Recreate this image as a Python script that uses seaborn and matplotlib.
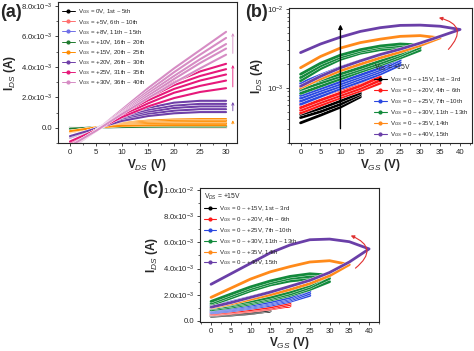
import numpy as np
import pandas as pd
import matplotlib
matplotlib.use('Agg')
import matplotlib.pyplot as plt
import matplotlib.patheffects as pe
import seaborn as sns
from matplotlib.lines import Line2D
from matplotlib.ticker import FuncFormatter, MultipleLocator

sns.set_style("ticks")
plt.rcParams['font.family'] = ['Liberation Sans', 'DejaVu Sans']
plt.rcParams['mathtext.fontset'] = 'custom'
plt.rcParams['mathtext.rm'] = 'Liberation Sans'
plt.rcParams['mathtext.it'] = 'Liberation Sans:italic'
plt.rcParams['mathtext.bf'] = 'Liberation Sans:bold'
plt.rcParams['axes.linewidth'] = 0.8

# ================= (a) output curves, I_DS in 1e-3 A =================
vds_pts = [0, 5, 10, 15, 20, 25, 30]

out_labels = ['V$_{GS}$ = 0V, 1st ~ 5th', 'V$_{GS}$ = +5V, 6th ~ 10th',
              'V$_{GS}$ = +8V, 11th ~ 15th', 'V$_{GS}$ = +10V, 16th ~ 20th',
              'V$_{GS}$ = +15V, 20th ~ 25th', 'V$_{GS}$ = +20V, 26th ~ 30th',
              'V$_{GS}$ = +25V, 31th ~ 35th', 'V$_{GS}$ = +30V, 36th ~ 40th']
out_colors = ['#000000', '#ff6f6f', '#6f6fe8', '#1f7a2e',
              '#ff8c00', '#6f3fa8', '#e6197a', '#d68cc4']

out_0v = [[0.00, 0.00, 0.01, 0.01, 0.01, 0.01, 0.01]] * 5
out_5v = [[-0.02, 0.01, 0.03, 0.03, 0.04, 0.04, 0.04]] * 5
out_8v = [[-0.04, 0.02, 0.05, 0.06, 0.06, 0.07, 0.07]] * 5
out_10v = [[-0.10, 0.03, 0.08, 0.11, 0.12, 0.13, 0.13],
           [-0.09, 0.03, 0.07, 0.10, 0.11, 0.12, 0.12],
           [-0.08, 0.03, 0.07, 0.09, 0.10, 0.10, 0.10],
           [-0.07, 0.02, 0.06, 0.08, 0.09, 0.09, 0.09],
           [-0.06, 0.02, 0.05, 0.07, 0.08, 0.08, 0.08]]
out_15v = [[-0.30, 0.02, 0.32, 0.47, 0.54, 0.57, 0.57],
           [-0.28, 0.02, 0.28, 0.40, 0.45, 0.47, 0.47],
           [-0.26, 0.02, 0.23, 0.32, 0.36, 0.37, 0.37],
           [-0.24, 0.02, 0.18, 0.24, 0.26, 0.27, 0.27],
           [-0.22, 0.02, 0.13, 0.16, 0.17, 0.17, 0.17]]
out_20v = [[-0.65, -0.05, 0.75, 1.30, 1.65, 1.77, 1.77],
           [-0.62, -0.05, 0.68, 1.15, 1.45, 1.57, 1.57],
           [-0.60, -0.05, 0.60, 1.02, 1.30, 1.40, 1.40],
           [-0.57, -0.05, 0.52, 0.90, 1.12, 1.22, 1.22],
           [-0.55, -0.05, 0.45, 0.77, 0.95, 1.03, 1.03]]
out_25v = [[-1.10, -0.15, 1.00, 2.10, 3.00, 3.70, 4.20],
           [-1.05, -0.15, 0.95, 1.95, 2.80, 3.40, 3.85],
           [-1.00, -0.15, 0.90, 1.80, 2.55, 3.10, 3.50],
           [-0.95, -0.15, 0.80, 1.60, 2.30, 2.75, 3.10],
           [-0.90, -0.15, 0.70, 1.40, 1.95, 2.35, 2.60]]
out_30v = [[-1.40, -0.20, 1.20, 2.60, 3.90, 5.10, 6.30],
           [-1.35, -0.20, 1.10, 2.40, 3.65, 4.80, 5.90],
           [-1.30, -0.20, 1.00, 2.25, 3.40, 4.50, 5.50],
           [-1.25, -0.20, 0.95, 2.10, 3.20, 4.25, 5.20],
           [-1.20, -0.20, 0.90, 1.95, 2.95, 3.90, 4.80]]
out_groups = [out_0v, out_5v, out_8v, out_10v, out_15v, out_20v, out_25v, out_30v]

# ================= (b)/(c) transfer loops, V_DS = +15V, I_DS in 1e-3 A =================
# each sweep: forward values at 0,5,..,Vmax then backward values at Vmax,..,5,0
tr_labels = ['V$_{GS}$ = 0 ~ +15V, 1st ~ 3rd', 'V$_{GS}$ = 0 ~ +20V, 4th ~ 6th',
             'V$_{GS}$ = 0 ~ +25V, 7th ~10th', 'V$_{GS}$ = 0 ~ +30V, 11th ~ 13th',
             'V$_{GS}$ = 0 ~ +35V, 14th', 'V$_{GS}$ = 0 ~ +40V, 15th']
tr_colors = ['#000000', '#ff1a1a', '#2a48e0', '#138a3c', '#ff8a1a', '#6a3fa8']
tr_vmax = [15, 20, 25, 30, 35, 40]

tr_15v = [([0.36, 0.45, 0.57, 0.77], [0.77, 0.70, 0.55, 0.42]),
          ([0.42, 0.50, 0.62, 0.82], [0.82, 0.75, 0.60, 0.47]),
          ([0.46, 0.55, 0.68, 0.86], [0.86, 0.80, 0.65, 0.52])]
tr_20v = [([0.48, 0.60, 0.75, 0.92, 1.15], [1.15, 1.10, 0.95, 0.78, 0.60]),
          ([0.52, 0.65, 0.80, 0.98, 1.25], [1.25, 1.20, 1.03, 0.85, 0.66]),
          ([0.56, 0.70, 0.86, 1.06, 1.38], [1.38, 1.30, 1.12, 0.93, 0.73])]
tr_25v = [([0.62, 0.78, 0.98, 1.20, 1.50, 1.95], [1.95, 2.00, 1.80, 1.50, 1.20, 0.92]),
          ([0.68, 0.85, 1.05, 1.30, 1.60, 2.10], [2.10, 2.15, 1.95, 1.62, 1.30, 1.00]),
          ([0.74, 0.92, 1.12, 1.38, 1.70, 2.25], [2.25, 2.30, 2.05, 1.72, 1.38, 1.07]),
          ([0.80, 0.98, 1.20, 1.46, 1.80, 2.40], [2.40, 2.45, 2.20, 1.82, 1.45, 1.14])]
tr_30v = [([0.85, 1.05, 1.30, 1.60, 1.95, 2.40, 3.00], [3.00, 3.20, 3.05, 2.75, 2.30, 1.75, 1.23]),
          ([0.95, 1.15, 1.40, 1.70, 2.05, 2.55, 3.25], [3.25, 3.40, 3.25, 2.90, 2.45, 1.90, 1.35]),
          ([1.05, 1.25, 1.50, 1.80, 2.20, 2.70, 3.50], [3.50, 3.60, 3.40, 3.05, 2.60, 2.05, 1.49])]
tr_35v = [([1.00, 1.30, 1.65, 2.00, 2.40, 2.85, 3.45, 4.30],
           [4.30, 4.60, 4.50, 4.15, 3.75, 3.20, 2.50, 1.80])]
tr_40v = [([1.05, 1.40, 1.80, 2.20, 2.65, 3.10, 3.70, 4.50, 5.50],
           [5.50, 6.05, 6.25, 6.20, 5.80, 5.20, 4.40, 3.60, 2.80])]
tr_groups = [tr_15v, tr_20v, tr_25v, tr_30v, tr_35v, tr_40v]

# ================= build long tables =================
rows = []
for g, curves in enumerate(out_groups):
    for j, ys in enumerate(curves):
        for x, y in zip(vds_pts, ys):
            rows.append({'grp': g, 'unit': g * 10 + j, 'Vds': x, 'Ids': y * 1e-3})
df_out = pd.DataFrame(rows)

rows = []
for g, sweeps in enumerate(tr_groups):
    xs = list(range(0, tr_vmax[g] + 1, 5))
    for j, (fwd, bwd) in enumerate(sweeps):
        for x, y in zip(xs + xs[::-1], fwd + bwd):
            rows.append({'grp': g, 'unit': g * 10 + j, 'Vgs': x, 'Ids': y * 1e-3})
df_tr = pd.DataFrame(rows)


def sci_fmt(v, pos):
    if abs(v) < 1e-12:
        return '0.0'
    e = int(np.floor(np.log10(abs(v)) + 1e-9))
    return '%.1fx10$^{%d}$' % (v / 10 ** e, e)


def log_fmt(v, pos):
    e = int(np.round(np.log10(v)))
    return '10$^{%d}$' % e


def outline(ax, lw):
    # thin white rim around each curve, like the marker-drawn originals
    for ln in ax.get_lines():
        ln.set_path_effects([pe.Stroke(linewidth=lw + 0.5, foreground='white'), pe.Normal()])


TICK_FS = 5.6
LAB_FS = 8.5
LEG_FS = 4.4

fig = plt.figure(figsize=(4.74, 3.51), dpi=100)
ax_a = fig.add_axes([0.1224, 0.5926, 0.3776, 0.4017])
ax_b = fig.add_axes([0.6097, 0.5926, 0.3861, 0.3846])
ax_c = fig.add_axes([0.4219, 0.0826, 0.3776, 0.3818])

# --- (a) ---
sns.lineplot(data=df_out, x='Vds', y='Ids', hue='grp', units='unit', estimator=None,
             sort=False, palette=dict(enumerate(out_colors)), linewidth=1.5,
             legend=False, ax=ax_a)
outline(ax_a, 1.5)
for g in [4, 5, 6, 7]:
    ends = [c[-1] * 1e-3 for c in out_groups[g]]
    ax_a.annotate('', xy=(31.3, max(ends) + 0.1e-3), xytext=(31.3, min(ends) - 0.1e-3),
                  arrowprops=dict(arrowstyle='->', color=out_colors[g], lw=0.6,
                                  mutation_scale=4))
ax_a.set_xlim(-2.3, 32.1)
ax_a.set_ylim(-1.0e-3, 8.26e-3)
ax_a.xaxis.set_major_locator(MultipleLocator(5))
ax_a.xaxis.set_minor_locator(MultipleLocator(2.5))
ax_a.yaxis.set_major_locator(MultipleLocator(2e-3))
ax_a.yaxis.set_minor_locator(MultipleLocator(1e-3))
ax_a.yaxis.set_major_formatter(FuncFormatter(sci_fmt))
ax_a.set_xlabel('V$_{DS}$ (V)', fontsize=LAB_FS, fontweight='bold', labelpad=1)
ax_a.set_ylabel('I$_{DS}$ (A)', fontsize=LAB_FS, fontweight='bold', labelpad=2)
handles = [Line2D([], [], color=c, lw=0.7, marker='o', markersize=2) for c in out_colors]
leg = ax_a.legend(handles, out_labels, loc='upper left', fontsize=LEG_FS, frameon=False,
                  handlelength=2.0, handletextpad=0.6, labelspacing=0.2,
                  borderaxespad=0.3, bbox_to_anchor=(0.0, 0.99))

# --- (b) ---
sns.lineplot(data=df_tr, x='Vgs', y='Ids', hue='grp', units='unit', estimator=None,
             sort=False, palette=dict(enumerate(tr_colors)), linewidth=2.0,
             legend=False, ax=ax_b)
outline(ax_b, 2.0)
ax_b.set_yscale('log')
ax_b.set_xlim(-2.9, 43)
ax_b.set_ylim(2.0e-4, 1.03e-2)
ax_b.xaxis.set_major_locator(MultipleLocator(5))
ax_b.xaxis.set_minor_locator(MultipleLocator(2.5))
ax_b.yaxis.set_major_formatter(FuncFormatter(log_fmt))
ax_b.yaxis.set_minor_formatter(FuncFormatter(lambda v, p: ''))
ax_b.annotate('', xy=(10, 6.9e-3), xytext=(10, 2.8e-4),
              arrowprops=dict(arrowstyle='-|>', color='black', lw=1.0, mutation_scale=6))
ax_b.annotate('', xy=(34.0, 7.9e-3), xytext=(36.6, 2.9e-3),
              arrowprops=dict(arrowstyle='-|>', color='#e03030', lw=0.8, mutation_scale=5,
                              connectionstyle='arc3,rad=0.9'))
ax_b.set_xlabel('V$_{GS}$ (V)', fontsize=LAB_FS, fontweight='bold', labelpad=1)
ax_b.set_ylabel('I$_{DS}$ (A)', fontsize=LAB_FS, fontweight='bold', labelpad=1)
handles = [Line2D([], [], color=c, lw=0.8, marker='o', markersize=2) for c in tr_colors]
leg_b = ax_b.legend(handles, tr_labels, loc='lower right', fontsize=LEG_FS, frameon=False,
                    handlelength=2.0, handletextpad=0.5, labelspacing=0.35,
                    borderaxespad=0.3, title='V$_{DS}$ = +15V', title_fontsize=4.9)
leg_b._legend_box.align = 'left'

# --- (c) ---
sns.lineplot(data=df_tr, x='Vgs', y='Ids', hue='grp', units='unit', estimator=None,
             sort=False, palette=dict(enumerate(tr_colors)), linewidth=2.0,
             legend=False, ax=ax_c)
outline(ax_c, 2.0)
ax_c.set_xlim(-2.8, 42.5)
ax_c.set_ylim(-0.08e-3, 1.015e-2)
ax_c.xaxis.set_major_locator(MultipleLocator(5))
ax_c.xaxis.set_minor_locator(MultipleLocator(2.5))
ax_c.yaxis.set_major_locator(MultipleLocator(2e-3))
ax_c.yaxis.set_minor_locator(MultipleLocator(1e-3))
ax_c.yaxis.set_major_formatter(FuncFormatter(sci_fmt))
ax_c.annotate('', xy=(34.7, 6.6e-3), xytext=(36.0, 3.9e-3),
              arrowprops=dict(arrowstyle='-|>', color='#e03030', lw=0.8, mutation_scale=5,
                              connectionstyle='arc3,rad=0.9'))
ax_c.set_xlabel('V$_{GS}$ (V)', fontsize=LAB_FS, fontweight='bold', labelpad=0.5)
ax_c.set_ylabel('I$_{DS}$ (A)', fontsize=LAB_FS, fontweight='bold', labelpad=2)
leg_c = ax_c.legend(handles, tr_labels, loc='upper left', fontsize=LEG_FS, frameon=False,
                    handlelength=2.0, handletextpad=0.5, labelspacing=0.35,
                    borderaxespad=0.2, title='V$_{DS}$ = +15V', title_fontsize=4.9)
leg_c._legend_box.align = 'left'

for ax in [ax_a, ax_b, ax_c]:
    ax.tick_params(which='major', labelsize=TICK_FS, length=2.5, width=0.6, pad=1.5)
    ax.tick_params(which='minor', length=1.5, width=0.5)

fig.text(0.0, 0.965, '(a)', fontsize=13, fontweight='bold', va='center')
fig.text(0.518, 0.965, '(b)', fontsize=13, fontweight='bold', va='center')
fig.text(0.30, 0.46, '(c)', fontsize=13, fontweight='bold', va='center')

fig.savefig('out.png', dpi=100)
